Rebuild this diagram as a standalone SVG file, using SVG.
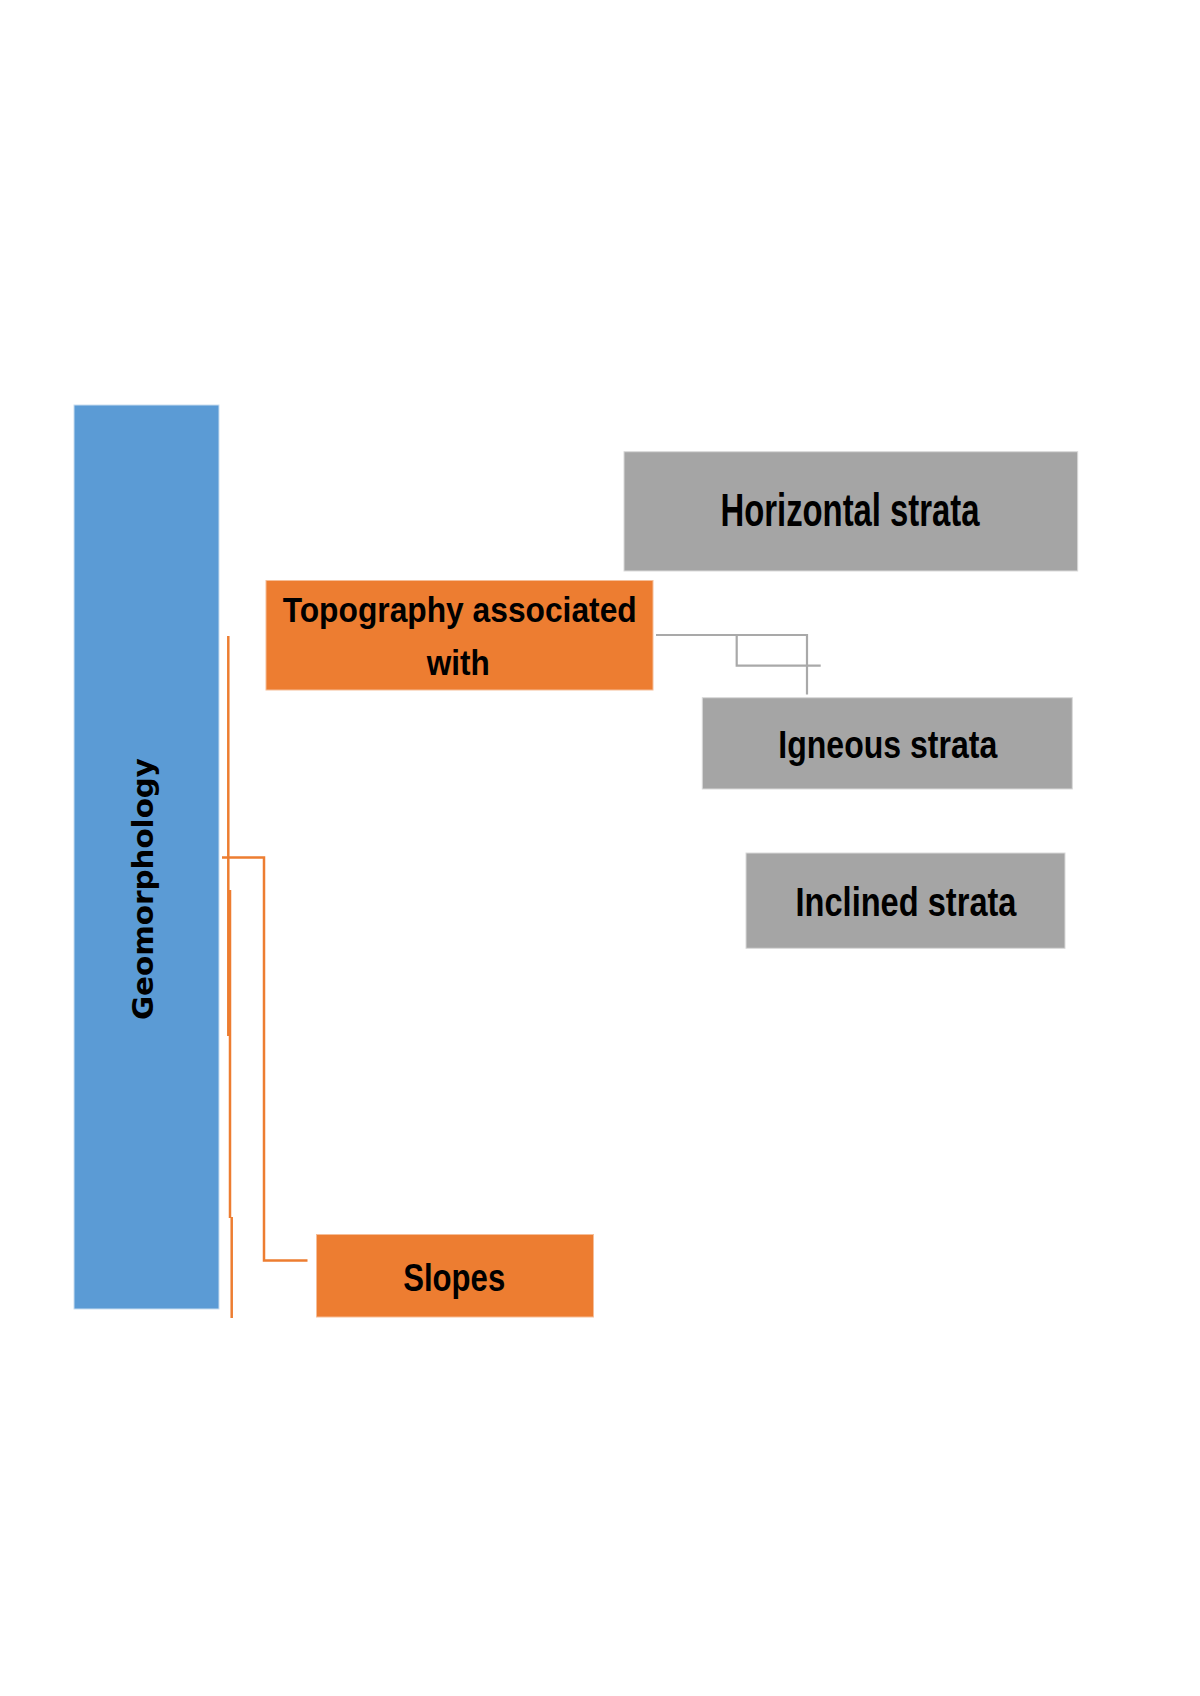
<svg xmlns="http://www.w3.org/2000/svg" width="1200" height="1696" viewBox="0 0 1200 1696">
<style>
.box-blue{fill:#5B9BD5;stroke:#C9DDF0;stroke-width:1}
.box-orange{fill:#ED7D31;stroke:#F6BE98;stroke-width:1}
.box-gray{fill:#A5A5A5;stroke:#D9D9D9;stroke-width:1}
.lbl{font-family:'Liberation Sans Narrow','Liberation Sans',Arial,sans-serif;font-weight:bold;fill:#000;text-anchor:middle}
.vlbl{font-family:'DejaVu Sans','Liberation Sans',sans-serif;font-weight:bold;fill:#000;text-anchor:middle}
.c-or{stroke:#ED7D31;stroke-width:2.5;fill:none}
.c-gr{stroke:#A9A9A9;stroke-width:2.2;fill:none}
</style>
<rect width="1200" height="1696" fill="#FFFFFF"/>
<g id="connectors">
<line class="c-or" x1="228.3" y1="636" x2="228.3" y2="1036"/>
<line class="c-or" x1="230" y1="890" x2="230" y2="1218"/>
<line class="c-or" x1="231.7" y1="1217" x2="231.7" y2="1318"/>
<polyline class="c-or" points="222,857.5 264,857.5 264,1260.5 307.5,1260.5"/>
<polyline class="c-gr" points="656,635 807,635 807,694.5"/>
<polyline class="c-gr" points="736.7,635 736.7,665.7 820.7,665.7"/>
</g>
<g id="node-geomorphology">
<rect class="box-blue" x="74" y="405" width="145" height="904"/>
<text class="vlbl" transform="translate(153,889) rotate(-90)" font-size="29" textLength="262" lengthAdjust="spacingAndGlyphs">Geomorphology</text>
</g>
<g id="node-topography">
<rect class="box-orange" x="266" y="580.5" width="387" height="109.5"/>
<text class="lbl" x="459.7" y="621.7" font-size="35" textLength="354" lengthAdjust="spacingAndGlyphs">Topography associated</text>
<text class="lbl" x="458.3" y="675" font-size="35" textLength="63" lengthAdjust="spacingAndGlyphs">with</text>
</g>
<g id="node-slopes">
<rect class="box-orange" x="316.5" y="1234.5" width="277" height="82.5"/>
<text class="lbl" x="454.2" y="1290.7" font-size="38" textLength="102" lengthAdjust="spacingAndGlyphs">Slopes</text>
</g>
<g id="node-horizontal">
<rect class="box-gray" x="624" y="451.7" width="453.7" height="119.3"/>
<text class="lbl" x="850" y="525.7" font-size="46" textLength="259" lengthAdjust="spacingAndGlyphs">Horizontal strata</text>
</g>
<g id="node-igneous">
<rect class="box-gray" x="702.3" y="697.7" width="370" height="91.3"/>
<text class="lbl" x="887.8" y="758.3" font-size="39" textLength="219" lengthAdjust="spacingAndGlyphs">Igneous strata</text>
</g>
<g id="node-inclined">
<rect class="box-gray" x="746" y="853" width="319" height="95.3"/>
<text class="lbl" x="906" y="916" font-size="40" textLength="221" lengthAdjust="spacingAndGlyphs">Inclined strata</text>
</g>
</svg>
